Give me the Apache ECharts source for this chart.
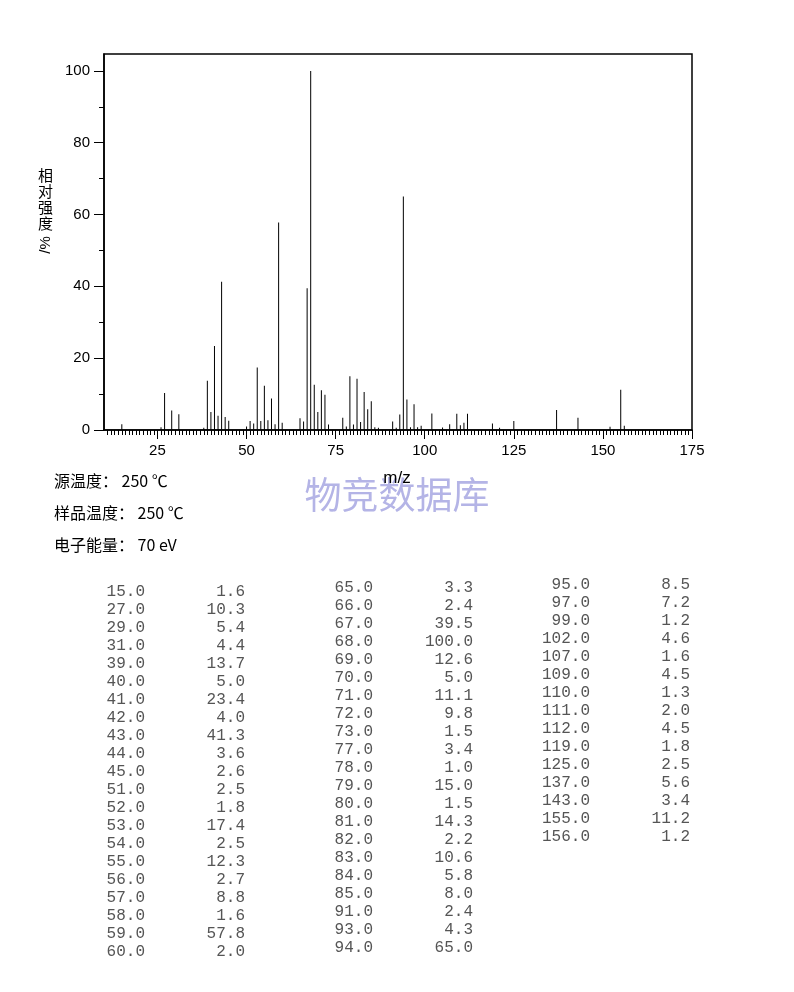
<!DOCTYPE html>
<html><head><meta charset="utf-8">
<script src="https://cdn.jsdelivr.net/npm/echarts@6/dist/echarts.min.js"></script>
<style>html,body{margin:0;padding:0;background:#fff}#main{width:794px;height:992px}</style>
</head><body><div id="main"></div>
<script>
// Main peaks (m/z, relative intensity %) — from the table
const mzValues = [15,27,29,31,39,40,41,42,43,44,45,51,52,53,54,55,56,57,58,59,60,
  65,66,67,68,69,70,71,72,73,77,78,79,80,81,82,83,84,85,91,93,94,
  95,97,99,102,107,109,110,111,112,119,125,137,143,155,156];
const intensities = [1.6,10.3,5.4,4.4,13.7,5.0,23.4,4.0,41.3,3.6,2.6,2.5,1.8,17.4,2.5,12.3,2.7,8.8,1.6,57.8,2.0,
  3.3,2.4,39.5,100.0,12.6,5.0,11.1,9.8,1.5,3.4,1.0,15.0,1.5,14.3,2.2,10.6,5.8,8.0,2.4,4.3,65.0,
  8.5,7.2,1.2,4.6,1.6,4.5,1.3,2.0,4.5,1.8,2.5,5.6,3.4,11.2,1.2];
// Small peaks visible in the plot but not listed (estimated)
const smallMz = [26,38,50,86,87,92,96,98,105,121,152];
const smallInt = [0.8,0.6,1.0,0.8,0.6,0.6,0.8,0.8,0.7,0.6,0.9];
// Axis ticks
const xTickLabels = [25,50,75,100,125,150,175];
const yTickLabels = [0,20,40,60,80,100];
const yMinorTicks = [10,30,50,70,90];
const xMinorTicks = [];
for (let v = 11; v <= 175; v++) xMinorTicks.push(v);
// Texts
const yTitleChars = ['相','对','强','度'];
const yTitleTail = '/%';
const xTitle = 'm/z';
const infoLines = ['源温度： 250 ℃','样品温度： 250 ℃','电子能量： 70 eV'];
const watermark = '物竞数据库';
const tableCols = [[0,21],[21,42],[42,57]];

const chart = echarts.init(document.getElementById('main'), null, {renderer:'canvas'});

const barData = mzValues.map((m,i)=>[m,intensities[i]]).concat(smallMz.map((m,i)=>[m,smallInt[i]]));

const graphics = [];
// watermark
graphics.push({type:'text', z:0, x:397, y:495, style:{text:watermark, fill:'rgb(180,180,230)', font:'37px "Noto Sans CJK SC"', align:'center', verticalAlign:'middle'}});
// x title
graphics.push({type:'text', z:10, x:397, y:478, style:{text:xTitle, fill:'#000', font:'17px "Liberation Sans"', align:'center', verticalAlign:'middle'}});
// y title
yTitleChars.forEach((c,i)=>{
  graphics.push({type:'text', z:10, x:45.5, y:175+i*16, style:{text:c, fill:'#000', font:'15px "Noto Sans CJK SC"', align:'center', verticalAlign:'middle'}});
});
graphics.push({type:'text', z:10, x:45.5, y:245, rotation:Math.PI/2, style:{text:yTitleTail, fill:'#000', font:'15px "Liberation Sans"', align:'center', verticalAlign:'middle'}});
// info lines
infoLines.forEach((t,i)=>{
  graphics.push({type:'text', z:10, x:54, y:481+i*32, style:{text:t, fill:'#000', font:'16px "Noto Sans CJK SC"', align:'left', verticalAlign:'middle'}});
});
// table
const mzRight = [145,373,590], intRight = [245,473,690], rowTop = [592,588,585];
tableCols.forEach((rng,c)=>{
  for (let i = rng[0]; i < rng[1]; i++) {
    const y = rowTop[c] + (i-rng[0])*18;
    graphics.push({type:'text', z:10, x:mzRight[c], y:y, style:{text:mzValues[i].toFixed(1), fill:'#555', font:'16px "Liberation Mono"', align:'right', verticalAlign:'middle'}});
    graphics.push({type:'text', z:10, x:intRight[c], y:y, style:{text:intensities[i].toFixed(1), fill:'#555', font:'16px "Liberation Mono"', align:'right', verticalAlign:'middle'}});
  }
});

const lab = {color:'#000', fontFamily:'Liberation Sans', fontSize:15};
chart.setOption({
  animation:false,
  backgroundColor:'#fff',
  grid:{left:104, right:102, top:54, bottom:562, show:true, borderColor:'#000', borderWidth:1.5, backgroundColor:'transparent'},
  xAxis:[
    {type:'value', min:10, max:175, position:'bottom',
     axisLine:{show:true, onZero:false, lineStyle:{color:'#000', width:1.5}},
     axisTick:{show:true, customValues:xTickLabels, length:9, lineStyle:{color:'#000', width:1}},
     axisLabel:Object.assign({customValues:xTickLabels, margin:13}, lab),
     splitLine:{show:false}},
    {type:'value', min:10, max:175, position:'bottom',
     axisLine:{show:false},
     axisTick:{show:true, customValues:xMinorTicks, length:5, lineStyle:{color:'#000', width:1}},
     axisLabel:{show:false}, splitLine:{show:false}}
  ],
  yAxis:[
    {type:'value', min:0, max:104.7, position:'left',
     axisLine:{show:true, onZero:false, lineStyle:{color:'#000', width:1.5}},
     axisTick:{show:true, customValues:yTickLabels, length:10, lineStyle:{color:'#000', width:1}},
     axisLabel:Object.assign({customValues:yTickLabels, margin:14}, lab),
     splitLine:{show:false}},
    {type:'value', min:0, max:104.7, position:'left',
     axisLine:{show:false},
     axisTick:{show:true, customValues:yMinorTicks, length:5, lineStyle:{color:'#000', width:1}},
     axisLabel:{show:false}, splitLine:{show:false}}
  ],
  series:[{type:'bar', xAxisIndex:0, yAxisIndex:0, data:barData, barWidth:1, itemStyle:{color:'#000'}, silent:true}],
  graphic:graphics
});
</script></body></html>
